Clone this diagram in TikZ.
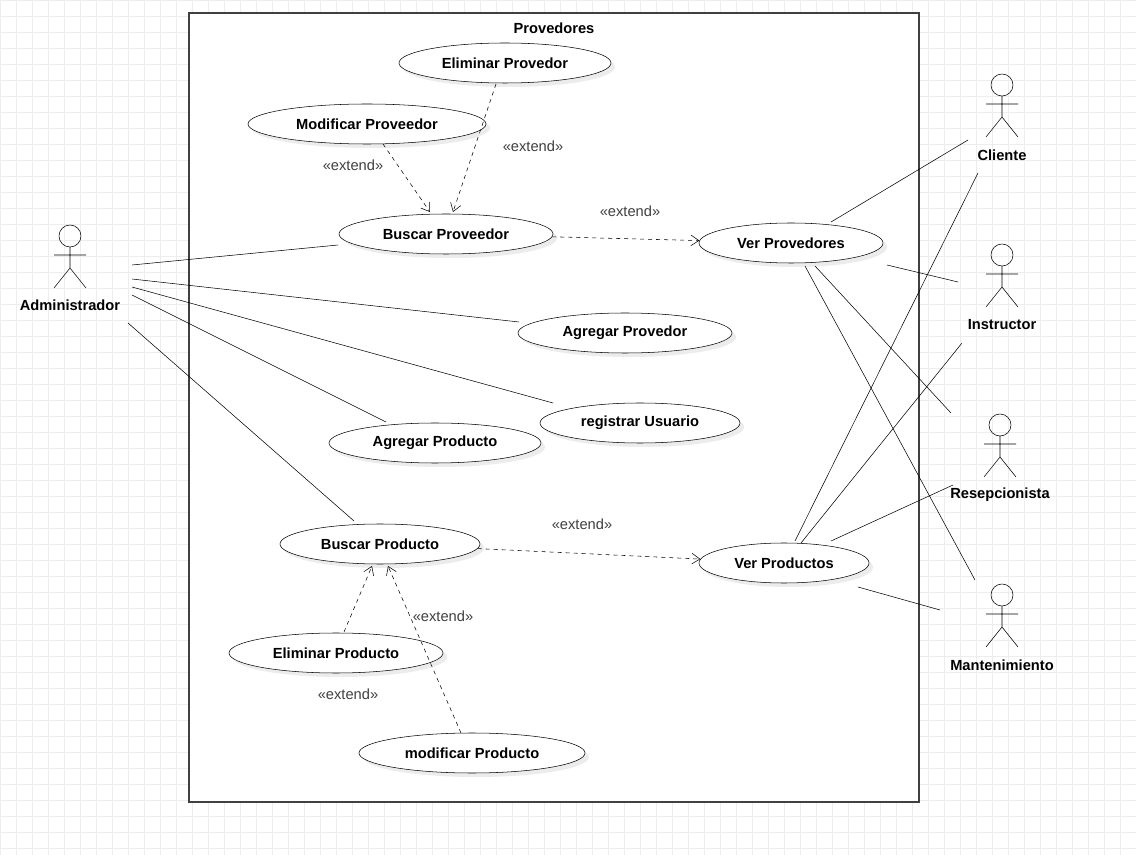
\documentclass[tikz,border=0pt]{standalone}
\usepackage{fontspec}
\setmainfont{Liberation Sans}
\usetikzlibrary{shapes.geometric,arrows.meta,shadows}
\begin{document}
\begin{tikzpicture}[x=0.75pt,y=-0.75pt,
 uc/.style={ellipse,draw,fill=white,minimum height=40*0.75pt,inner sep=0pt,font=\fontsize{11}{13}\selectfont\bfseries,drop shadow={shadow xshift=3pt,shadow yshift=-3pt,opacity=0.15}},
 ext/.style={draw,dashed,-{Straight Barb[length=6pt,width=8pt]}},
 el/.style={font=\fontsize{11}{13}\selectfont,text=black!75},
 lbl/.style={font=\fontsize{11}{13}\selectfont\bfseries},
 act/.pic={\draw (0,0) circle (11) (0,11)--(0,32) (-16,19)--(16,19) (-16,52)--(0,32)--(16,52);}]
\useasboundingbox (0,0) rectangle (1136,855);
\fill[white] (0,0) rectangle (1136,855);
\foreach \i in {0,16,...,1136} \draw[black!7] (\i,0)--(\i,855);
\foreach \i in {0,16,...,855} \draw[black!7] (0,\i)--(1136,\i);
\draw[black!75,line width=1.2pt,fill=white] (189,13) rectangle (919,802);
\node[lbl] (title) at (554,28) {Provedores};
\node[uc,minimum width=212*0.75pt] (ep) at (505,63) {Eliminar Provedor};
\node[uc,minimum width=238*0.75pt] (mp) at (367,124) {Modificar Proveedor};
\node[uc,minimum width=214*0.75pt] (bpv) at (446,234) {Buscar Proveedor};
\node[uc,minimum width=184*0.75pt] (vpv) at (791,243) {Ver Provedores};
\node[uc,minimum width=214*0.75pt] (ap) at (625,333) {Agregar Provedor};
\node[uc,minimum width=200*0.75pt] (ru) at (640,423) {registrar Usuario};
\node[uc,minimum width=212*0.75pt] (apr) at (435,443) {Agregar Producto};
\node[uc,minimum width=200*0.75pt] (bpr) at (380,544) {Buscar Producto};
\node[uc,minimum width=170*0.75pt] (vpr) at (784,563) {Ver Productos};
\node[uc,minimum width=214*0.75pt] (epr) at (336,653) {Eliminar Producto};
\node[uc,minimum width=226*0.75pt] (mpr) at (472,753) {modificar Producto};
% actors
\pic at (70,236) {act}; \node[lbl] (adm) at (70,305) {Administrador};
\pic at (1002,85) {act}; \node[lbl] (cli) at (1002,155) {Cliente};
\pic at (1002,255) {act}; \node[lbl] (ins) at (1002,325) {Instructor};
\pic at (1000,425) {act}; \node[lbl] (res) at (1000,495) {Resepcionista};
\pic at (1002,595) {act}; \node[lbl] (man) at (1002,665) {Mantenimiento};
% free ends
\coordinate (a1) at (132,265); \coordinate (a2) at (132,279); \coordinate (a3) at (132,287);
\coordinate (a4) at (132,295); \coordinate (a5) at (128,323);
\coordinate (c1) at (968,140); \coordinate (c2) at (978,173);
\coordinate (i1) at (958,282); \coordinate (i2) at (962,343);
\coordinate (r1) at (951,413); \coordinate (r2) at (953,485);
\coordinate (m1) at (975,580); \coordinate (m2) at (940,610);
\draw (a1)--(338,245); \draw (a2)--(519,322); \draw (a3)--(553,403); \draw (a4)--(386,422); \draw (a5)--(354,521);
\draw (c1)--(831,222); \draw (i1)--(887,265); \draw (r1)--(815,266); \draw (m1)--(805,266);
\draw (c2)--(795,541); \draw (i2)--(801,543); \draw (r2)--(831,541); \draw (m2)--(858,587);
% extends
\draw[ext] (383,144)--(430,212); \node[el] at (353,165) {«extend»};
\draw[ext] (496,84)--(453,212); \node[el] at (533,146) {«extend»};
\draw[ext] (bpv)--(vpv); \node[el] at (630,211) {«extend»};
\draw[ext] (bpr)--(vpr); \node[el] at (582,524) {«extend»};
\draw[ext] (344,632)--(372,566); \node[el] at (348,694) {«extend»};
\draw[ext] (461,733)--(388,566); \node[el] at (443,616) {«extend»};
\end{tikzpicture}
\end{document}
